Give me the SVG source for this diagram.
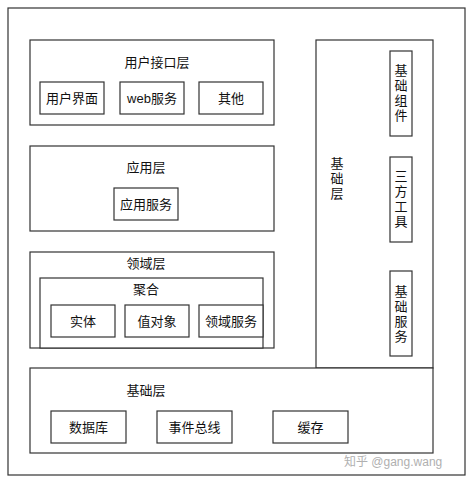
<svg xmlns="http://www.w3.org/2000/svg" width="474" height="484" viewBox="0 0 474 484">
<style>
rect{fill:#fff;stroke:#333;stroke-width:1.2}
text{font-family:"Liberation Sans","Noto Sans CJK SC",sans-serif;font-size:13px;fill:#111;text-anchor:middle;dominant-baseline:central}
.wm{fill:#b0b0b0;font-size:12px;text-anchor:start}
</style>
<rect width="474" height="484" style="stroke:none"/>
<g id="frame"><rect x="8" y="8" width="457" height="467"/></g>
<g id="ui-layer">
<rect x="30" y="40" width="244" height="85"/>
<text x="157" y="62">用户接口层</text>
</g>
<g id="ui"><rect x="40" y="82" width="64" height="32"/><text x="72" y="98">用户界面</text></g>
<g id="web"><rect x="120" y="82" width="64" height="32"/><text x="152" y="98">web服务</text></g>
<g id="other"><rect x="199" y="82" width="64" height="32"/><text x="231" y="98">其他</text></g>
<g id="app-layer">
<rect x="30" y="146" width="244" height="85"/>
<text x="146" y="167">应用层</text>
</g>
<g id="app-service"><rect x="114" y="188" width="64" height="32"/><text x="146" y="204">应用服务</text></g>
<g id="domain-layer">
<rect x="30" y="252" width="244" height="96"/>
<text x="146" y="263">领域层</text>
</g>
<g id="aggregate">
<rect x="40" y="278" width="223" height="70"/>
<text x="146" y="289">聚合</text>
</g>
<g id="entity"><rect x="51" y="305" width="64" height="32"/><text x="83" y="321">实体</text></g>
<g id="value-object"><rect x="125" y="305" width="64" height="32"/><text x="157" y="321">值对象</text></g>
<g id="domain-service"><rect x="199" y="305" width="64" height="32"/><text x="231" y="321">领域服务</text></g>
<g id="infra-side">
<rect x="316" y="40" width="117" height="328"/>
<text x="337" y="163">基</text><text x="337" y="178">础</text><text x="337" y="193">层</text>
</g>
<g id="base-component"><rect x="390" y="51" width="22" height="85"/>
<text x="401" y="70">基</text><text x="401" y="85">础</text><text x="401" y="100">组</text><text x="401" y="115">件</text></g>
<g id="third-party"><rect x="390" y="157" width="22" height="85"/>
<text x="401" y="176">三</text><text x="401" y="191">方</text><text x="401" y="206">工</text><text x="401" y="221">具</text></g>
<g id="base-service"><rect x="390" y="271" width="22" height="85"/>
<text x="401" y="291">基</text><text x="401" y="306">础</text><text x="401" y="321">服</text><text x="401" y="336">务</text></g>
<g id="infra-bottom">
<rect x="30" y="368" width="403" height="85"/>
<text x="146" y="390">基础层</text>
</g>
<g id="db"><rect x="51" y="411" width="75" height="32"/><text x="88.5" y="427">数据库</text></g>
<g id="eventbus"><rect x="157" y="411" width="75" height="32"/><text x="194.5" y="427">事件总线</text></g>
<g id="cache"><rect x="273" y="411" width="75" height="32"/><text x="310.5" y="427">缓存</text></g>
<g id="connectors"></g>
<text class="wm" x="344" y="462">知乎 @gang.wang</text>
</svg>
